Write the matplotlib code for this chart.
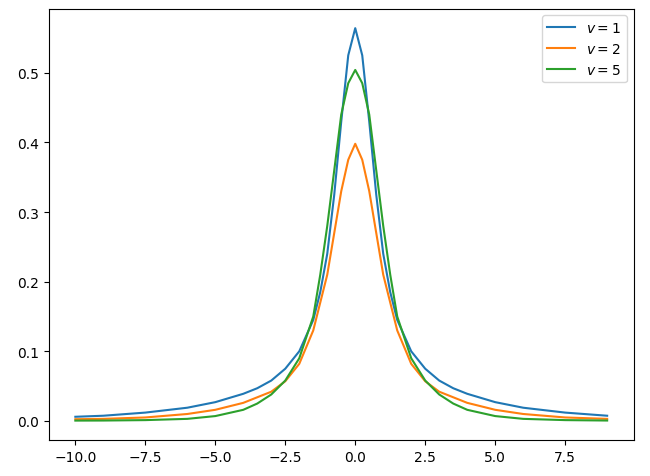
import numpy as np
import matplotlib
matplotlib.use("Agg")
import matplotlib.pyplot as plt

# half-profile sample positions (|x|) and values
x_half = [0, 0.25, 0.5, 0.75, 1.0, 1.25, 1.5, 2.0, 2.5, 3.0, 3.5, 4.0, 5.0, 6.0, 7.5, 9.0, 10.0]
v1 = [0.564, 0.525, 0.43, 0.325, 0.24, 0.185, 0.145, 0.1, 0.075, 0.058, 0.047, 0.039, 0.027, 0.019, 0.012, 0.0075, 0.006]
v2 = [0.398, 0.375, 0.33, 0.27, 0.21, 0.17, 0.13, 0.082, 0.057, 0.042, 0.034, 0.026, 0.016, 0.01, 0.005, 0.003, 0.0025]
v5 = [0.504, 0.485, 0.44, 0.36, 0.28, 0.21, 0.15, 0.09, 0.058, 0.038, 0.025, 0.016, 0.007, 0.003, 0.0012, 0.0006, 0.0005]
labels = ["$v = 1$", "$v = 2$", "$v = 5$"]
x_min, x_max = -10.0, 9.0

fig, ax = plt.subplots(figsize=(6.5, 4.77), dpi=100)
xh = np.array(x_half)
for vals, lab in zip([v1, v2, v5], labels):
    vh = np.array(vals)
    xs = np.concatenate([-xh[::-1], xh[1:]])
    ys = np.concatenate([vh[::-1], vh[1:]])
    m = (xs >= x_min) & (xs <= x_max)
    ax.plot(xs[m], ys[m], label=lab)
ax.legend(loc="upper right")
fig.subplots_adjust(left=0.075, right=0.975, top=0.98, bottom=0.075)
fig.savefig("out.png")
